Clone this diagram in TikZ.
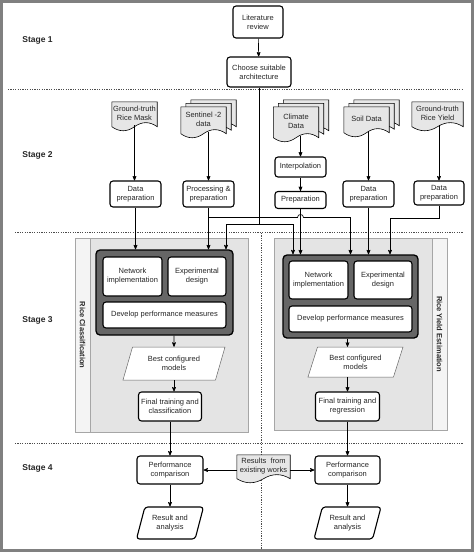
\documentclass[tikz,border=0pt]{standalone}
\usepackage{fontspec}
\setmainfont{Liberation Sans}
\usetikzlibrary{arrows,calc,shapes.geometric,backgrounds}

\definecolor{docgray}{HTML}{E6E6E6}
\definecolor{lanegray}{HTML}{E4E4E4}
\definecolor{headgray}{HTML}{F4F4F4}
\definecolor{boxdark}{HTML}{666666}
\definecolor{framegray}{HTML}{808080}
\definecolor{txt}{HTML}{262626}

\tikzset{
  box/.style={draw, line width=1.1pt, rounded corners=3pt, fill=white, align=center, inner sep=1pt},
  doc/.style={align=center, inner sep=1pt},
  docline/.style={draw=black, line width=0.6pt, fill=docgray},
  para/.style={trapezium, trapezium left angle=#1, trapezium right angle=180-#1, trapezium stretches body,
    align=center, inner sep=1pt, fill=white},
  stage/.style={font=\fontsize{8.5}{10}\selectfont\bfseries},
  sep/.style={dash pattern=on 1.2pt off 1.2pt, draw=black!70, line width=0.6pt},
  lane/.style={draw=black!35, fill=lanegray, line width=0.5pt},
  lanehead/.style={draw=black!35, fill=headgray, line width=0.5pt, rotate=-90,
    font=\fontsize{7.5}{9}\selectfont\bfseries},
  group/.style={draw, line width=1.3pt, rounded corners=4pt, fill=boxdark},
  link/.style={->, line width=0.65pt},
}

% one page of a document shape, drawn round the node #2
\newcommand{\docpage}[2][0,0]{%
  \filldraw[docline, transform canvas={shift={(#1)}}] (#2.north west) -- (#2.north east) -- ($(#2.south east)+(0,1.5)$)
    .. controls ($(#2.south east)!.1667!(#2.south west)+(0,-3.9)$) and ($(#2.south east)!.3333!(#2.south west)+(0,-3.9)$) .. ($(#2.south)+(0,1.5)$)
    .. controls ($(#2.south east)!.6667!(#2.south west)+(0,6.9)$) and ($(#2.south east)!.8333!(#2.south west)+(0,6.9)$) .. ($(#2.south west)+(0,1.5)$) -- cycle;}

\begin{document}
\begin{tikzpicture}[x=1pt,y=-1pt,>=stealth',text=txt,font=\fontsize{7.5}{9}\selectfont]
\useasboundingbox (0,0) rectangle (474,552);
\draw[framegray, line width=3pt] (1.5,1.5) rectangle (472.5,550.5);

% stages
\node[stage] (S1) at (37.5,40)  {Stage 1};
\node[stage] (S2) at (37.5,155) {Stage 2};
\node[stage] (S3) at (37.5,320) {Stage 3};
\node[stage] (S4) at (37.5,468) {Stage 4};

% stage 1
\node[box, minimum width=50pt, minimum height=32pt] (lit)  at (258,22) {Literature\\review};
\node[box, minimum width=64pt, minimum height=30pt] (arch) at (259,72) {Choose suitable\\architecture};

% stage 2
\node[doc, minimum width=45pt, minimum height=23pt] (mask) at (134.5,113.5) {Ground-truth\\Rice Mask};
\node[doc, minimum width=45pt, minimum height=25pt] (sent) at (203.5,119.5) {Sentinel -2\\data};
\node[doc, minimum width=45pt, minimum height=29pt] (clim) at (296,121.5)   {Climate\\Data};
\node[doc, minimum width=45pt, minimum height=24pt] (soil) at (366.5,119)   {Soil Data};
\node[doc, minimum width=51pt, minimum height=23pt] (yld)  at (437.5,113.5) {Ground-truth\\Rice Yield};

\node[box, minimum width=51pt, minimum height=26pt] (maskprep) at (135.5,194) {Data\\preparation};
\node[box, minimum width=51pt, minimum height=26pt] (sentprep) at (208.5,194) {Processing \&\\preparation};
\node[box, minimum width=51pt, minimum height=20pt] (interp)   at (300.5,167) {Interpolation};
\node[box, minimum width=51pt, minimum height=17pt] (climprep) at (300.5,200) {Preparation};
\node[box, minimum width=51pt, minimum height=26pt] (soilprep) at (368.5,194) {Data\\preparation};
\node[box, minimum width=50pt, minimum height=24pt] (yldprep)  at (439,193)   {Data\\preparation};

% stage 3
\node[lane, minimum width=173pt, minimum height=194pt] (laneL) at (161.5,335) {};
\node[lanehead, minimum width=194pt, minimum height=15pt] (headL) at (82.5,335) {Rice Classification};
\node[lane, minimum width=173pt, minimum height=192pt] (laneR) at (360.5,334) {};
\node[lanehead, minimum width=192pt, minimum height=15pt] (headR) at (439.5,334) {Rice Yield Estimation};

\node[group, minimum width=137pt, minimum height=85pt] (darkL) at (164.5,292.5) {};
\node[box, minimum width=59pt, minimum height=39pt]  (netL) at (132.5,276.5) {Network\\implementation};
\node[box, minimum width=58pt, minimum height=39pt]  (expL) at (197,276.5)   {Experimental\\design};
\node[box, minimum width=123pt, minimum height=26pt] (devL) at (164.5,315)   {Develop performance measures};
\node[para=60, draw=black!60, line width=0.5pt, minimum width=102pt, minimum height=33pt] (bestL) at (174,363.5) {Best configured\\models};
\node[box, minimum width=63pt, minimum height=29pt]  (finL) at (170,406.5)   {Final training and\\classification};

\node[group, minimum width=135pt, minimum height=83pt] (darkR) at (350.5,296.5) {};
\node[box, minimum width=59pt, minimum height=38pt]  (netR) at (318.5,280)   {Network\\implementation};
\node[box, minimum width=58pt, minimum height=38pt]  (expR) at (383,280)     {Experimental\\design};
\node[box, minimum width=123pt, minimum height=26pt] (devR) at (350.5,319)   {Develop performance measures};
\node[para=60, draw=black!60, line width=0.5pt, minimum width=95pt, minimum height=30pt] (bestR) at (355.5,362) {Best configured\\models};
\node[box, minimum width=64pt, minimum height=29pt]  (finR) at (347.5,406.5) {Final training and\\regression};

% stage 4
\node[box, minimum width=66pt, minimum height=28pt] (perfL) at (170,470)   {Performance\\comparison};
\node[box, minimum width=65pt, minimum height=28pt] (perfR) at (347.5,470) {Performance\\comparison};
\node[doc, minimum width=53pt, minimum height=22pt] (res)   at (263.5,466) {Results~~from\\existing works};
\node[para=65, draw, line width=1.1pt, rounded corners=3pt, minimum width=67pt, minimum height=32pt] (resL) at (170,523)   {Result and\\analysis};
\node[para=65, draw, line width=1.1pt, rounded corners=3pt, minimum width=67pt, minimum height=32pt] (resR) at (347.5,523) {Result and\\analysis};

% separators and document pages
\begin{scope}[on background layer]
  \draw[sep] (8,89.5) -- (463,89.5);
  \draw[sep] (15,232) -- (463,232);
  \draw[sep] (15,443) -- (463,443);
  \draw[sep] (261,233) -- (261,549);
  \docpage{mask}
  \docpage[10,-7]{sent} \docpage[5,-3.5]{sent} \docpage{sent}
  \docpage[10,-7]{clim} \docpage[5,-3.5]{clim} \docpage{clim}
  \docpage[10,-7]{soil} \docpage[5,-3.5]{soil} \docpage{soil}
  \docpage{yld}
  \docpage{res}
\end{scope}

% junctions
\coordinate (busS) at (208.5,217.5);
\coordinate (hopA) at (297.5,217.5);
\coordinate (hopB) at (303.5,217.5);
\coordinate (busY) at (390,218);
\coordinate (busA) at (259,224);

\path[link]
  (lit) edge (arch)
  (mask) edge (mask |- maskprep.north)
  (sent.south -| sentprep) edge (sentprep)
  (clim.south -| interp) edge (interp)
  (interp) edge (climprep)
  (soil.south -| soilprep) edge (soilprep)
  (yld.south -| yldprep) edge (yldprep)
  (maskprep) edge (maskprep |- darkL.north)
  (sentprep) edge (sentprep |- darkL.north)
  (climprep) edge (climprep |- darkR.north)
  (soilprep) edge (soilprep |- darkR.north);

\draw[line width=0.65pt] (arch) -- (busA);
\draw[link] (busA) -| ([xshift=61.5pt]darkL.north);
\draw[link] (busA) -| ([xshift=-57.5pt]darkR.north);
\draw[link] (busS) -- (hopA) .. controls (297.5,213.5) and (303.5,213.5) .. (hopB) -| (darkR.north);
\draw[link] (yldprep) |- (busY) -- (busY |- darkR.north);

\draw[link] (darkL.south -| bestL) -- (bestL);
\draw[link] (bestL.south) -- (bestL.south |- finL.north);
\draw[link] (darkR.south -| finR) -- (bestR.north -| finR);
\draw[link] (bestR.south -| finR) -- (finR);

\path[link]
  (finL) edge (finL |- perfL.north)
  (finR) edge (finR |- perfR.north)
  (perfL) edge (resL)
  (perfR) edge (resR);
\draw[link] (res.west |- perfL) -- (perfL.east);
\draw[link] (res.east |- perfR) -- (perfR.west);
\end{tikzpicture}
\end{document}
